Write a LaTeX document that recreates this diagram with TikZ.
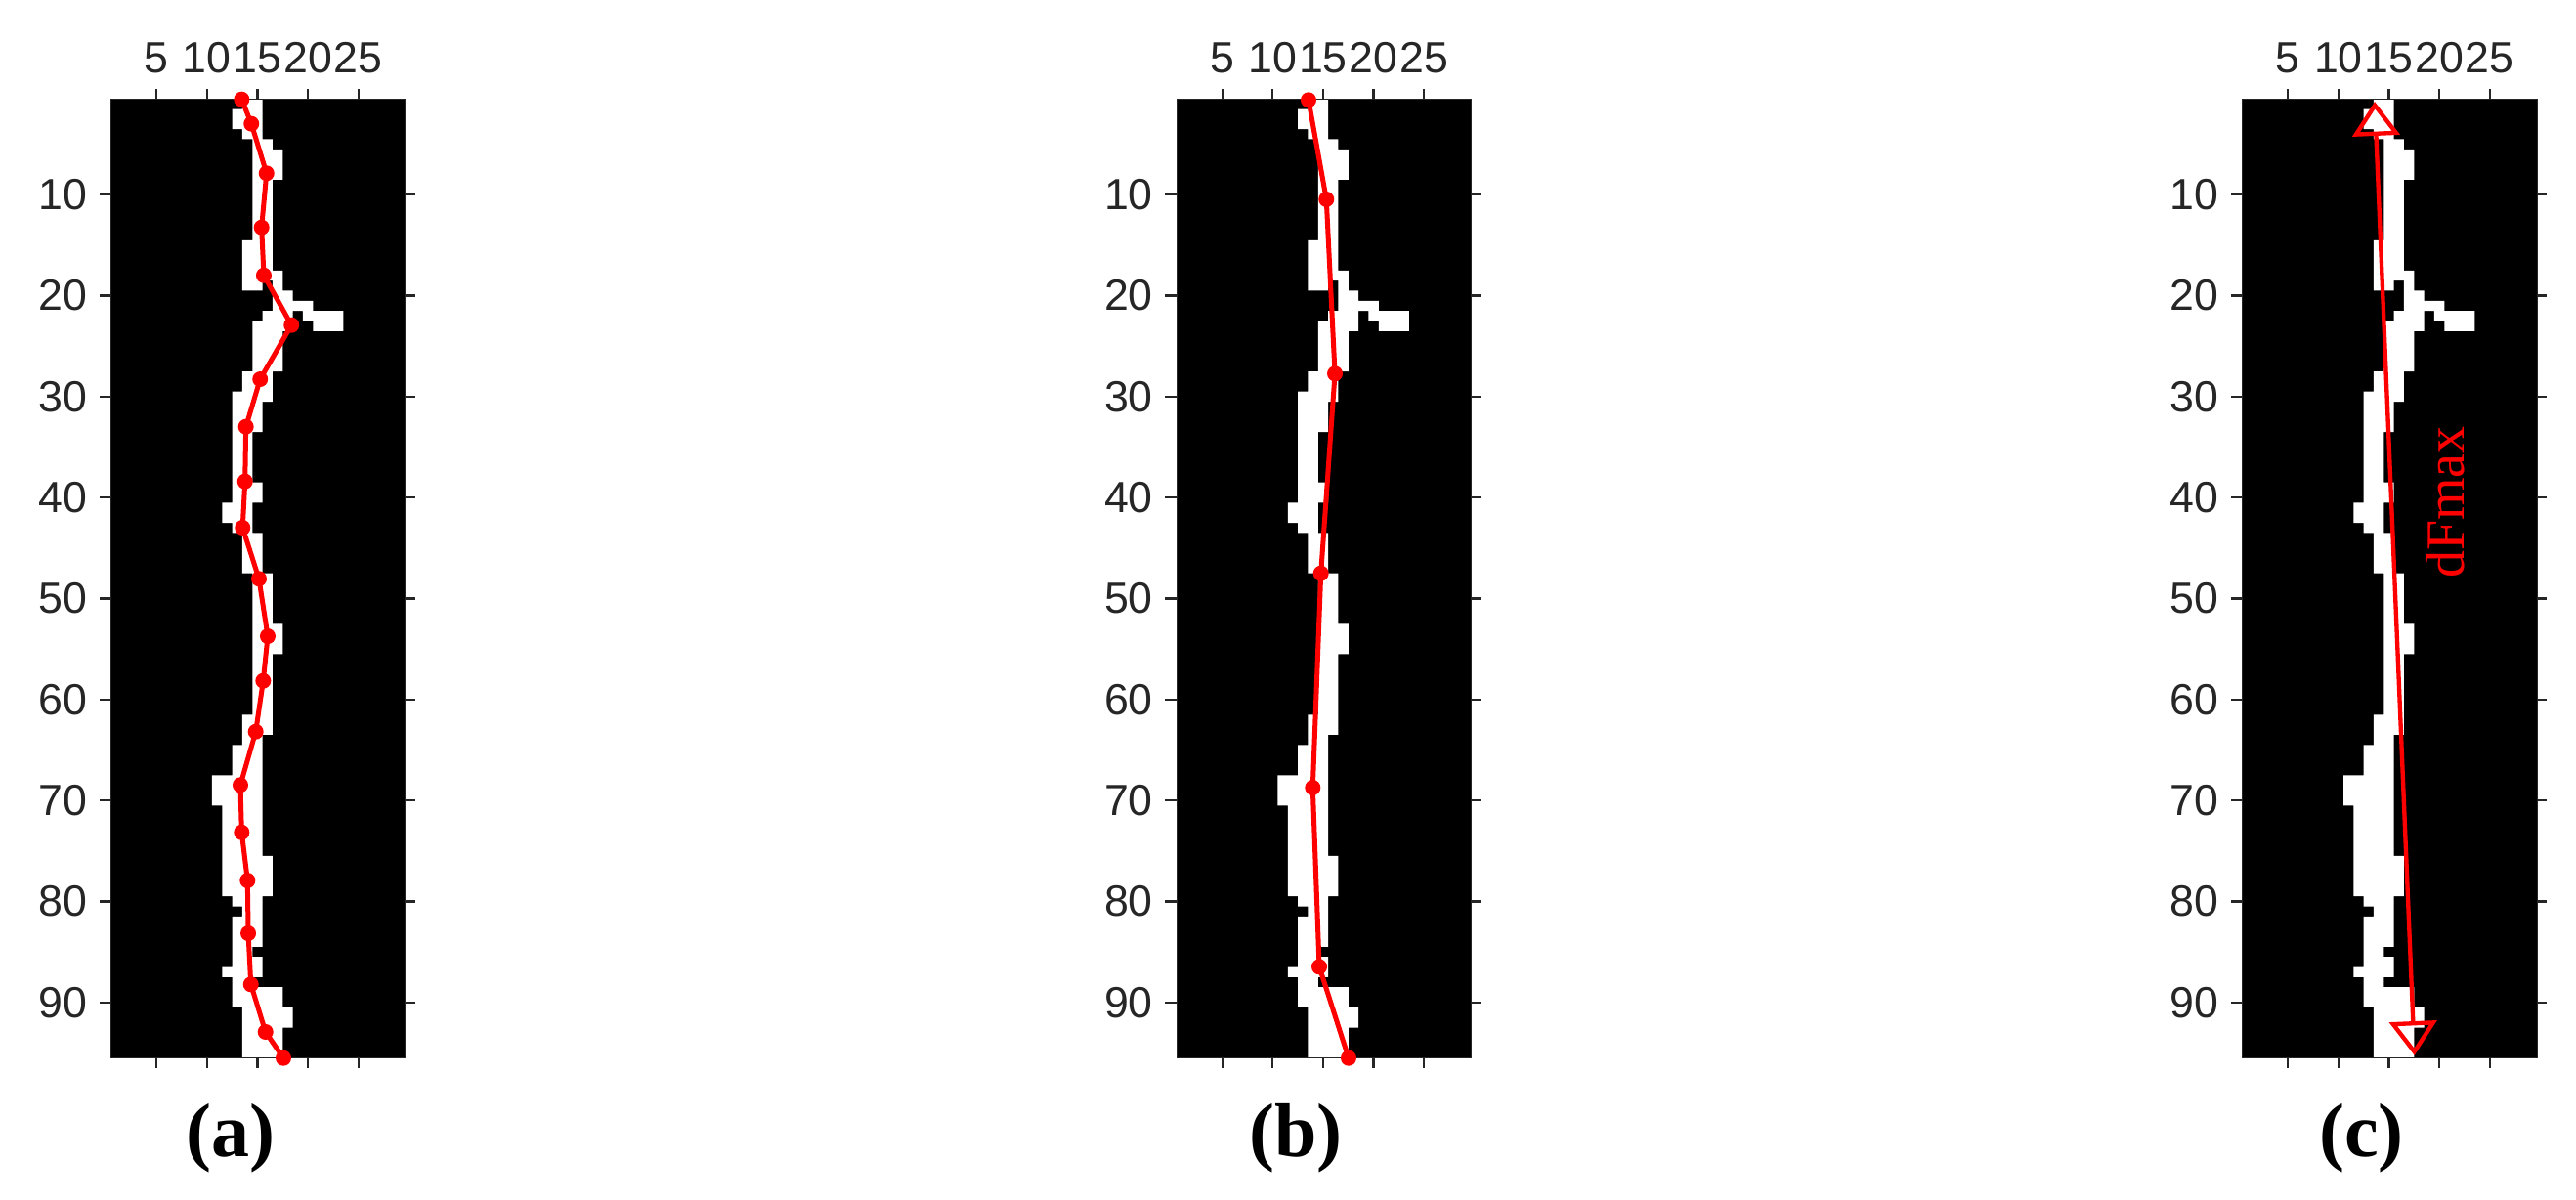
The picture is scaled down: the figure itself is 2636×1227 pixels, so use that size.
\documentclass[tikz,border=0pt]{standalone}
\usepackage{fontspec}
\setmainfont{Liberation Serif}
\setsansfont{Liberation Sans}
\usetikzlibrary{arrows.meta}
\definecolor{axgray}{HTML}{262626}
\definecolor{mred}{HTML}{FF0000}
\tikzset{
  axtick/.style={draw=axgray, line width=0.7pt},
  ticklab/.style={font=\sffamily\fontsize{13.4pt}{15pt}\selectfont, text=axgray, inner sep=0pt},
  panlab/.style={font=\bfseries\fontsize{23.4pt}{26pt}\selectfont, inner sep=0pt},
  trace/.style={draw=mred, line width=1.5pt, line join=round},
  dotm/.style={circle, fill=mred, draw=none, inner sep=0pt, minimum size=4.8pt},
  dfarrow/.style={draw=mred, line width=1.3pt,
    {Triangle[open, length=10.5pt, width=14.5pt]}-{Triangle[open, length=10.5pt, width=14.5pt]}},
  dflab/.style={font=\fontsize{16.8pt}{18pt}\selectfont, text=mred, inner sep=0pt, rotate=90},
}
\newcommand{\panelframe}[1]{%
  \fill[black] (0.5,0.5) rectangle (29.67,95.5);
  \fill[white] \foreach \ra/\rb/\ca/\cb in {
    1/1/14/15, 2/3/13/15, 4/4/14/15, 5/5/15/16, 6/8/15/17, 9/14/15/16,
    15/17/14/16, 18/18/14/17, 19/19/14/15, 19/19/17/17, 20/20/17/18,
    21/21/17/20, 22/22/16/18, 22/22/20/23, 23/23/15/18, 23/23/21/23,
    24/27/15/17, 28/29/14/16, 30/30/13/16, 31/33/13/15, 34/38/13/14,
    39/40/13/15, 41/42/12/14, 43/43/13/14, 44/47/14/15, 48/52/15/16,
    53/55/15/17, 56/61/15/16, 62/63/14/16, 64/64/14/15, 65/67/13/15,
    68/70/11/15, 71/75/12/15, 76/79/12/16, 80/80/13/15, 81/81/14/15,
    82/84/13/15, 85/85/13/14, 86/86/13/15, 87/87/12/15, 88/88/13/14,
    89/90/13/17, 91/92/14/18, 93/95/14/17}
    { (\ca-0.5,\ra-0.5) rectangle (\cb+0.5,\rb+0.5) };
  \draw[axgray, line width=0.3pt] (0.5,0.5) rectangle (29.67,95.5);
  \foreach \v in {5,10,15,20,25} {
    \draw[axtick] (\v,0.5) -- (\v,-0.45);
    \draw[axtick] (\v,95.5) -- (\v,96.5);
    \node[ticklab, anchor=base] (#1x\v) at (\v,-2.1) {\v};
  }
  \foreach \v in {10,20,...,90} {
    \draw[axtick] (0.5,\v) -- (-0.65,\v);
    \draw[axtick] (29.67,\v) -- (30.67,\v);
    \node[ticklab, anchor=east] (#1y\v) at (-1.8,\v) {\v};
  }
}
\begin{document}
\begin{tikzpicture}[x=0.3pt, y=-0.3pt]
\useasboundingbox (0,0) rectangle (2636,1227);
\fill[white] (0,0) rectangle (2636,1227);

% ---------- panel (a)
\begin{scope}[shift={(108.5,96)}, x=3.099pt, y=-3.099pt]
  \panelframe{a}
  \node[dotm] (a1) at (13.44,0.55) {};
  \node[dotm] (a2) at (14.40,2.97) {};
  \node[dotm] (a3) at (15.90,7.87) {};
  \node[dotm] (a4) at (15.41,13.23) {};
  \node[dotm] (a5) at (15.63,17.98) {};
  \node[dotm] (a6) at (18.37,22.91) {};
  \node[dotm] (a7) at (15.27,28.27) {};
  \node[dotm] (a8) at (13.86,32.98) {};
  \node[dotm] (a9) at (13.77,38.40) {};
  \node[dotm] (a10) at (13.53,42.98) {};
  \node[dotm] (a11) at (15.15,48.04) {};
  \node[dotm] (a12) at (16.02,53.73) {};
  \node[dotm] (a13) at (15.57,58.15) {};
  \node[dotm] (a14) at (14.83,63.19) {};
  \node[dotm] (a15) at (13.31,68.47) {};
  \node[dotm] (a16) at (13.44,73.16) {};
  \node[dotm] (a17) at (14.02,77.93) {};
  \node[dotm] (a18) at (14.09,83.16) {};
  \node[dotm] (a19) at (14.35,88.22) {};
  \node[dotm] (a20) at (15.80,92.93) {};
  \node[dotm] (a21) at (17.57,95.52) {};
  \draw[trace] (a1.center) \foreach \i in {2,...,21} { -- (a\i.center) };
  \node[panlab] (laba) at (12.3,103.5) {(a)};
\end{scope}

% ---------- panel (b)
\begin{scope}[shift={(1199,96)}, x=3.099pt, y=-3.099pt]
  \panelframe{b}
  \node[dotm] (b1) at (13.55,0.61) {};
  \node[dotm] (b2) at (15.32,10.45) {};
  \node[dotm] (b3) at (16.17,27.72) {};
  \node[dotm] (b4) at (14.78,47.50) {};
  \node[dotm] (b5) at (13.97,68.73) {};
  \node[dotm] (b6) at (14.62,86.48) {};
  \node[dotm] (b7) at (17.52,95.52) {};
  \draw[trace] (b1.center) \foreach \i in {2,...,7} { -- (b\i.center) };
  \node[panlab] (labb) at (12.3,103.5) {(b)};
\end{scope}

% ---------- panel (c)
\begin{scope}[shift={(2289.5,96)}, x=3.099pt, y=-3.099pt]
  \panelframe{c}
  \coordinate (ctop) at (13.6,0.77);
  \coordinate (cbot) at (17.54,95.26);
  \draw[dfarrow] (ctop) -- (cbot);
  \node[dflab] (dfmax) at (20.57,40.46) {dFmax};
  \node[panlab] (labc) at (12.3,103.5) {(c)};
\end{scope}
\end{tikzpicture}
\end{document}
